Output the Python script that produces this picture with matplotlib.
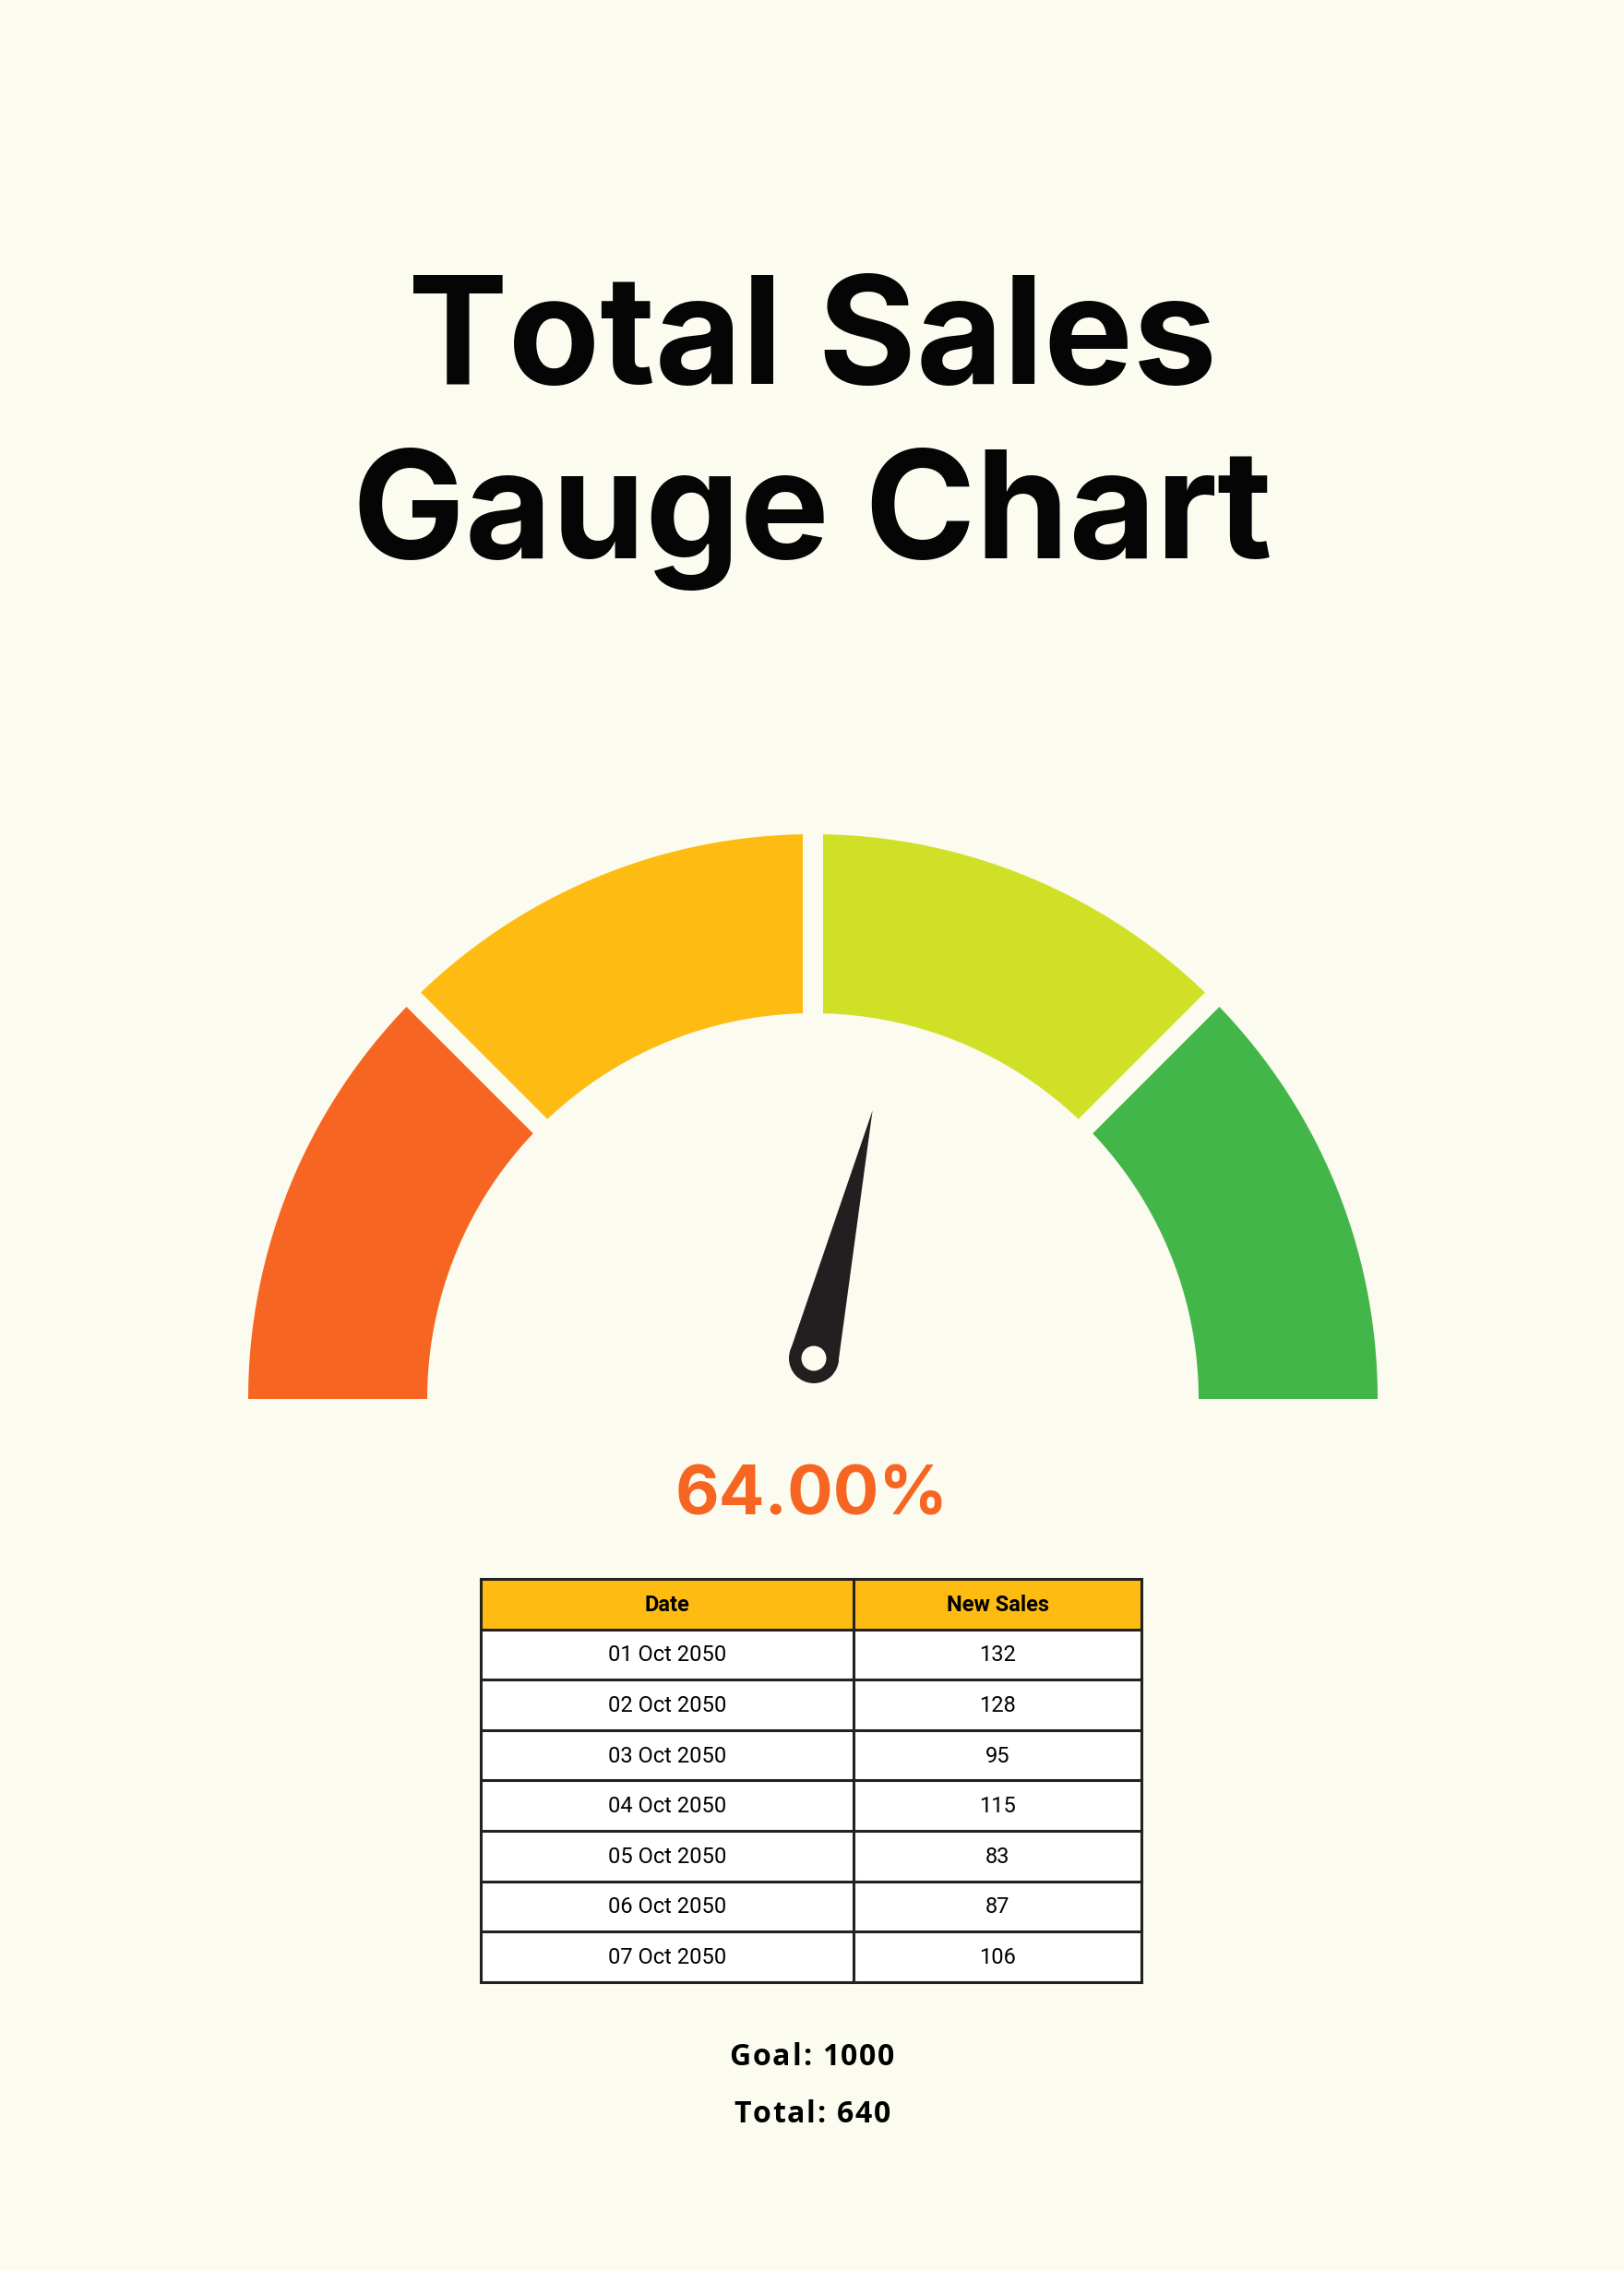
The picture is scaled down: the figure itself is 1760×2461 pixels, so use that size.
import numpy as np
import matplotlib
matplotlib.use("Agg")
import matplotlib.pyplot as plt
from matplotlib.patches import Polygon, Circle, Rectangle

# ---------------- data ----------------
title_lines = ["Total Sales", "Gauge Chart"]
segment_bounds = [0, 25, 50, 75, 100]          # percent
segment_colors = ["#F76522", "#FEBB12", "#D0E027", "#43B649"]
needle_pct = 57.4                               # needle position
value_label = "64.00%"
table_header = ["Date", "New Sales"]
dates = ["01 Oct 2050", "02 Oct 2050", "03 Oct 2050", "04 Oct 2050",
         "05 Oct 2050", "06 Oct 2050", "07 Oct 2050"]
new_sales = [132, 128, 95, 115, 83, 87, 106]
goal = 1000
total = 640

BG = "#FBFBEF"
W, H = 1760, 2461
fig = plt.figure(figsize=(W / 100, H / 100), dpi=100, facecolor=BG)
ax = fig.add_axes([0, 0, 1, 1])
ax.set_xlim(0, W)
ax.set_ylim(H, 0)
ax.axis("off")
ax.set_facecolor(BG)
renderer = fig.canvas.get_renderer()


def tracked_text(x, y, s, tracking, **kw):
    """Draw centered text with extra letter spacing (pixels)."""
    widths = []
    for ch in s:
        t = ax.text(0, 0, ch if ch != " " else "\u00a0", **kw)
        bb = t.get_window_extent(renderer)
        widths.append(bb.width)
        t.remove()
    t = ax.text(0, 0, "a a", **kw)
    wsp = t.get_window_extent(renderer).width
    t.remove()
    t = ax.text(0, 0, "aa", **kw)
    wsp -= t.get_window_extent(renderer).width
    t.remove()
    widths = [wsp if ch == " " else w for ch, w in zip(s, widths)]
    total_w = sum(widths) + tracking * (len(s) - 1)
    xc = x - total_w / 2
    for ch, w in zip(s, widths):
        if ch != " ":
            ax.text(xc, y, ch, ha="left", va="baseline", **kw)
        xc += w + tracking


# ---------------- title ----------------
ax.text(W / 2, 416, title_lines[0], ha="center", va="baseline",
        fontsize=117, fontweight="bold", family="Inter", color="#050505")
ax.text(W / 2, 605, title_lines[1], ha="center", va="baseline",
        fontsize=117, fontweight="bold", family="Inter", color="#050505")

# ---------------- gauge ----------------
cx, cy = 881, 1516
r_out, r_in = 612, 418


def pct_to_theta(p):
    return np.pi * (1 - p / 100.0)


for (p0, p1), col in zip(zip(segment_bounds[:-1], segment_bounds[1:]), segment_colors):
    t = np.linspace(pct_to_theta(p0), pct_to_theta(p1), 200)
    xo = cx + r_out * np.cos(t)
    yo = cy - r_out * np.sin(t)
    xi = cx + r_in * np.cos(t[::-1])
    yi = cy - r_in * np.sin(t[::-1])
    pts = np.column_stack([np.concatenate([xo, xi]), np.concatenate([yo, yi])])
    ax.add_patch(Polygon(pts, closed=True, facecolor=col, edgecolor="none"))

gap_px = 22
for p in segment_bounds[1:-1]:
    t = pct_to_theta(p)
    ax.plot([cx + (r_in - 10) * np.cos(t), cx + (r_out + 10) * np.cos(t)],
            [cy - (r_in - 10) * np.sin(t), cy - (r_out + 10) * np.sin(t)],
            color=BG, lw=gap_px * 0.72, solid_capstyle="butt", zorder=3)

# needle
px, py = 882, 1472
n_len = 276
base_r = 27
tn = pct_to_theta(needle_pct)
ux, uy = np.cos(tn), -np.sin(tn)
nx, ny = -uy, ux
tip = (px + n_len * ux, py + n_len * uy)
needle = Polygon([(px + base_r * nx, py + base_r * ny), tip,
                  (px - base_r * nx, py - base_r * ny)],
                 closed=True, facecolor="#231F20", edgecolor="none", zorder=4)
ax.add_patch(needle)
ax.add_patch(Circle((px, py), base_r, facecolor="#231F20", edgecolor="none", zorder=4))
ax.add_patch(Circle((px, py), 13.5, facecolor=BG, edgecolor="none", zorder=5))

# value label
ax.text(W / 2, 1641, value_label, ha="center", va="baseline",
        fontsize=53, fontweight="bold", family="Inter", color="#F76522")

# ---------------- table ----------------
tx0, tx1, tdiv = 521, 1237, 925
ty0 = 1711
row_h = 54.6
n_rows = len(dates) + 1
border = "#222222"

ax.add_patch(Rectangle((tx0, ty0), tx1 - tx0, row_h, facecolor="#FEBB12",
                       edgecolor="none", zorder=1))
ax.add_patch(Rectangle((tx0, ty0 + row_h), tx1 - tx0, row_h * len(dates),
                       facecolor="white", edgecolor="none", zorder=1))
for i in range(n_rows + 1):
    y = ty0 + i * row_h
    ax.plot([tx0, tx1], [y, y], color=border, lw=2.2, zorder=2, solid_capstyle="projecting")
for x in (tx0, tdiv, tx1):
    ax.plot([x, x], [ty0, ty0 + n_rows * row_h], color=border, lw=2.2, zorder=2,
            solid_capstyle="projecting")

c1 = (tx0 + tdiv) / 2
c2 = (tdiv + tx1) / 2
ax.text(c1, ty0 + row_h / 2 + 1, table_header[0], ha="center", va="center",
        fontsize=17, fontweight="bold", family="Roboto", color="black", zorder=3)
ax.text(c2, ty0 + row_h / 2 + 1, table_header[1], ha="center", va="center",
        fontsize=17, fontweight="bold", family="Roboto", color="black", zorder=3)
for i, (d, s) in enumerate(zip(dates, new_sales)):
    yc = ty0 + (i + 1.5) * row_h + 1
    ax.text(c1, yc, d, ha="center", va="center", fontsize=17,
            family="Roboto", color="black", zorder=3)
    ax.text(c2, yc, str(s), ha="center", va="center", fontsize=17,
            family="Roboto", color="black", zorder=3)

# ---------------- goal / total ----------------
kw = dict(fontsize=23, fontweight="bold", family="Open Sans", color="black")
tracked_text(W / 2, 2238, f"Goal: {goal}", 1.8, **kw)
tracked_text(W / 2, 2300, f"Total: {total}", 1.8, **kw)

fig.savefig("out.png", dpi=100, facecolor=BG)
